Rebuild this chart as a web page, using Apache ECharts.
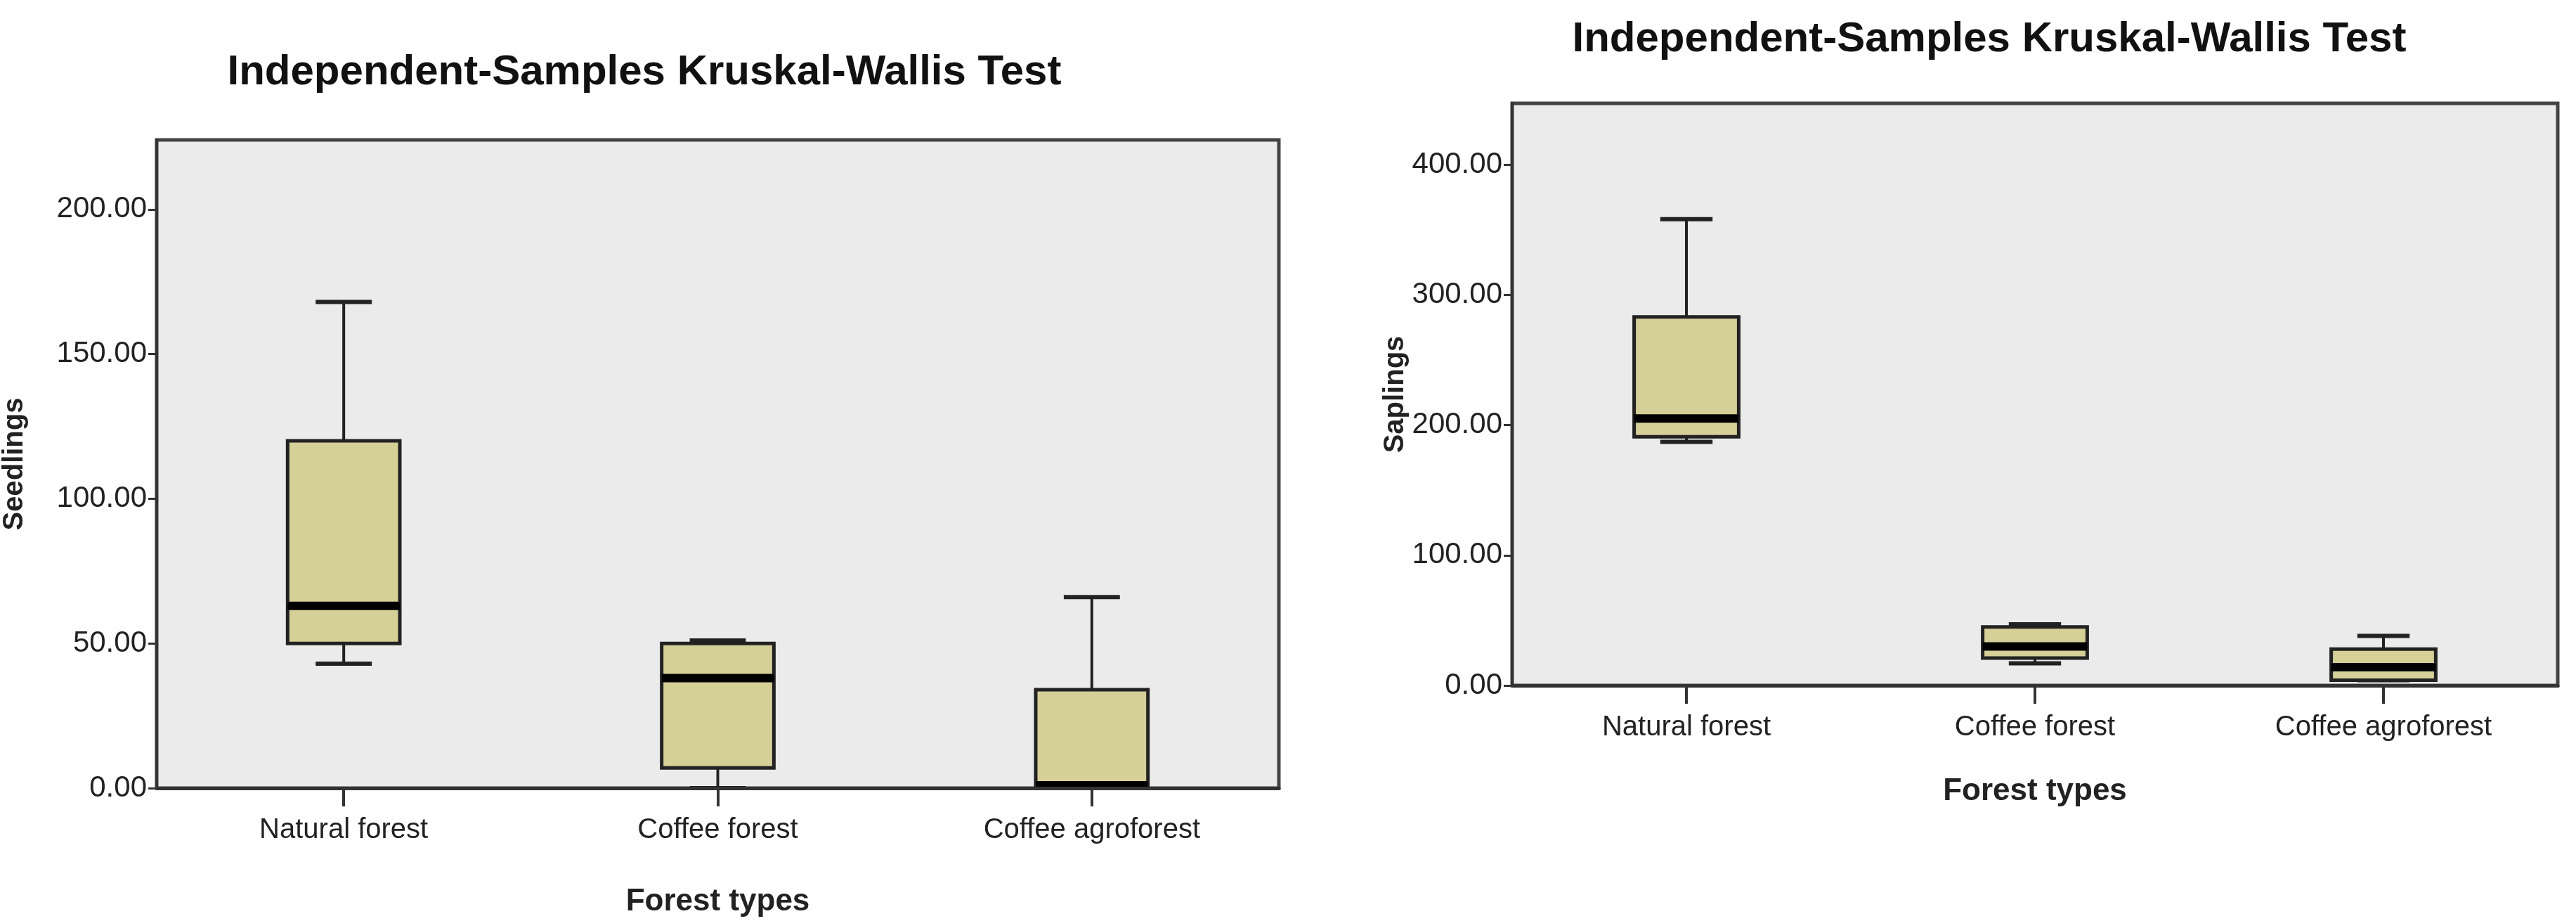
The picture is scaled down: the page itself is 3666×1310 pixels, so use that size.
<!DOCTYPE html>
<html style="height: 100%">
<head>
<meta charset="utf-8">
</head>
<body style="height: 100%; margin: 0; background: #fff">
<div id="container" style="height: 100%"></div>
<script src="https://cdn.jsdelivr.net/npm/echarts@6/dist/echarts.min.js"></script>
<script>
// categories and box statistics: [min, q1, median, q3, max]
var categories = ['Natural forest', 'Coffee forest', 'Coffee agroforest'];
var seedlings = [
  [43, 50, 63, 120, 168],
  [0, 7, 38, 50, 51],
  [0, 0, 1, 34, 66]
];
var saplings = [
  [187, 191, 205, 283, 358],
  [17, 21, 30, 45, 47],
  [4, 4, 14, 28, 38]
];
var seedlingTicks = [0, 50, 100, 150, 200];
var saplingTicks = [0, 100, 200, 300, 400];

var font = '"Liberation Sans Narrow", "Liberation Sans", Arial, sans-serif';
var boxFill = '#d5cf98';
var ink = '#222';

function toRows(stats) {
  return stats.map(function (s, i) { return [i].concat(s); });
}

function renderBox(params, api) {
  var x = api.value(0);
  var lo = api.coord([x, api.value(1)]);
  var q1 = api.coord([x, api.value(2)]);
  var md = api.coord([x, api.value(3)]);
  var q3 = api.coord([x, api.value(4)]);
  var hi = api.coord([x, api.value(5)]);
  var bw = api.size([1, 0])[0] * 0.3;
  var cw = bw * 0.5;
  var cx = lo[0];
  var thin = { stroke: ink, lineWidth: 4 };
  return {
    type: 'group',
    children: [
      { type: 'line', shape: { x1: cx, y1: hi[1], x2: cx, y2: q3[1] }, style: thin },
      { type: 'line', shape: { x1: cx, y1: q1[1], x2: cx, y2: lo[1] }, style: thin },
      { type: 'line', shape: { x1: cx - cw / 2, y1: hi[1], x2: cx + cw / 2, y2: hi[1] }, style: { stroke: ink, lineWidth: 6 } },
      { type: 'line', shape: { x1: cx - cw / 2, y1: lo[1], x2: cx + cw / 2, y2: lo[1] }, style: { stroke: ink, lineWidth: 6 } },
      { type: 'rect', shape: { x: cx - bw / 2, y: q3[1], width: bw, height: q1[1] - q3[1] },
        style: { fill: boxFill, stroke: ink, lineWidth: 5 } },
      { type: 'line', shape: { x1: cx - bw / 2, y1: md[1], x2: cx + bw / 2, y2: md[1] }, style: { stroke: '#000', lineWidth: 12 } }
    ]
  };
}

function xAxis(idx, gap) {
  return {
    type: 'category', gridIndex: idx, data: categories,
    name: 'Forest types', nameLocation: 'middle', nameGap: gap,
    nameTextStyle: { fontFamily: font, fontWeight: 'bold', fontSize: 44, color: ink },
    axisLine: { show: true, lineStyle: { color: '#333', width: 5 } },
    axisTick: { show: true, interval: 0, alignWithLabel: true, inside: false, length: 26, lineStyle: { color: '#333', width: 4 } },
    axisLabel: { fontFamily: font, fontSize: 40, color: ink, margin: 40 },
    z: 10
  };
}

function yAxis(idx, name, max, ticks, gap) {
  return {
    type: 'value', gridIndex: idx, min: 0, max: max,
    name: name, nameLocation: 'middle', nameGap: gap,
    nameTextStyle: { fontFamily: 'Liberation Sans, Arial, sans-serif', fontWeight: 'bold', fontSize: 40, color: ink },
    axisLine: { show: true, lineStyle: { color: '#333', width: 4 } },
    axisTick: { show: true, length: 12, customValues: ticks, lineStyle: { color: '#333', width: 3 } },
    axisLabel: { fontFamily: font, fontSize: 42, color: ink, margin: 14, customValues: ticks,
      formatter: function (v) { return v.toFixed(2); } },
    splitLine: { show: false }
  };
}

var chart = echarts.init(document.getElementById('container'));
chart.setOption({
  backgroundColor: '#fff',
  animation: false,
  title: [
    { text: 'Independent-Samples Kruskal-Wallis Test', left: 912, top: 98, textAlign: 'center', textVerticalAlign: 'middle',
      textStyle: { fontFamily: font, fontSize: 60, fontWeight: 'bold', color: '#111' } },
    { text: 'Independent-Samples Kruskal-Wallis Test', left: 2826, top: 51, textAlign: 'center', textVerticalAlign: 'middle',
      textStyle: { fontFamily: font, fontSize: 60, fontWeight: 'bold', color: '#111' } }
  ],
  grid: [
    { left: 222, top: 199, width: 1598, height: 926, show: true, backgroundColor: '#ebebeb', borderColor: '#444', borderWidth: 5 },
    { left: 2152, top: 147, width: 1488, height: 828, show: true, backgroundColor: '#ebebeb', borderColor: '#444', borderWidth: 5 }
  ],
  xAxis: [xAxis(0, 140), xAxis(1, 129)],
  yAxis: [yAxis(0, 'Seedlings', 224, seedlingTicks, 182), yAxis(1, 'Saplings', 447, saplingTicks, 110)],
  series: [
    { type: 'custom', xAxisIndex: 0, yAxisIndex: 0, renderItem: renderBox, data: toRows(seedlings), encode: { x: 0, y: [1, 2, 3, 4, 5] } },
    { type: 'custom', xAxisIndex: 1, yAxisIndex: 1, renderItem: renderBox, data: toRows(saplings), encode: { x: 0, y: [1, 2, 3, 4, 5] } }
  ]
});
</script>
</body>
</html>
